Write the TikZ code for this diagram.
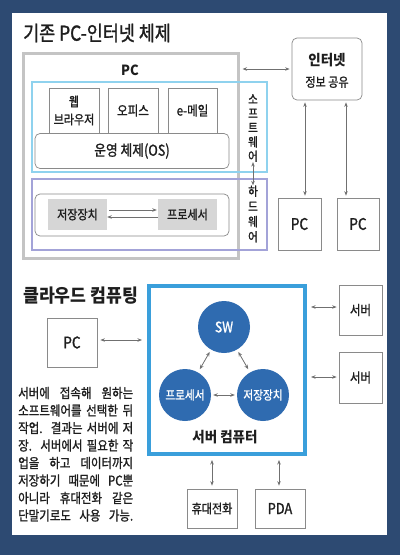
\documentclass[tikz,border=0pt]{standalone}
\usepackage{fontspec}
\setmainfont{Noto Sans CJK KR}[UprightFeatures={FakeStretch=0.85,FakeBold=1.2}, BoldFeatures={FakeStretch=0.93}]
\usetikzlibrary{arrows.meta}
\definecolor{bgblue}{HTML}{2D4A72}
\definecolor{swblue}{HTML}{8FD2EE}
\definecolor{hwpurple}{HTML}{A3A3D8}
\definecolor{pcgray}{HTML}{C4C4C4}
\definecolor{boxgray}{HTML}{8A8A8A}
\definecolor{fillgray}{HTML}{D6D6D6}
\definecolor{arrgray}{HTML}{707070}
\definecolor{circblue}{HTML}{2F6BB0}
\definecolor{srvblue}{HTML}{3A9FDB}
\definecolor{ink}{HTML}{1E1E1E}
\newcommand{\fs}[2]{\fontsize{#1}{#2}\selectfont}
\tikzset{
  plainbox/.style={draw=boxgray, line width=0.7pt, fill=white, inner sep=0pt, text=ink, font=\fs{13.5}{15}, align=center},
  rbox/.style={plainbox, rounded corners=5pt},
  graybox/.style={fill=fillgray, inner sep=0pt, text=ink, font=\fs{13}{15}},
  frame/.style={inner sep=0pt, fill=none},
  txt/.style={inner sep=0pt, align=center, text=ink},
  circ/.style={circle, fill=circblue, minimum size=52pt, inner sep=0pt, text=white, font=\fs{12.5}{14}},
  biarr/.style={draw=arrgray, line width=0.8pt, {Stealth[length=4.5pt,width=3.5pt]}-{Stealth[length=4.5pt,width=3.5pt]}},
  onearr/.style={draw=arrgray, line width=0.8pt, -{Stealth[length=4.5pt,width=3.5pt]}}
}
\begin{document}
\begin{tikzpicture}[x=1pt,y=-1pt]
\useasboundingbox (0,0) rectangle (400,555);
\fill[bgblue] (0,0) rectangle (400,555);
\fill[white] (12,13) rectangle (387,535);

% ---------- upper part
\node[txt, anchor=west, font=\fs{20.5}{22}] (title1) at (23,33) {기존 PC-인터넷 체제};

\node[frame, draw=pcgray, line width=3pt, minimum width=215, minimum height=205] (pcouter) at (130.5,155.5) {};
\node[txt, font=\bfseries\fs{14}{16}] (pclabel) at (130,70) {PC};

\node[frame, draw=swblue, line width=1.2pt, minimum width=235, minimum height=90] (swbox) at (149.5,127) {};
\node[frame, draw=hwpurple, line width=1.2pt, minimum width=235, minimum height=71] (hwbox) at (149.5,214.5) {};

\node[plainbox, minimum width=50, minimum height=45, font=\fs{13}{18}] (web) at (74,110.5) {웹\\브라우저};
\node[plainbox, minimum width=50, minimum height=45] (office) at (133,110.5) {오피스};
\node[plainbox, minimum width=49, minimum height=45] (email) at (192.5,110.5) {e-메일};
\node[rbox, minimum width=194, minimum height=35, font=\fs{15}{17}] (os) at (132,151) {운영 체제(OS)};

\node[txt, font=\fs{12.5}{14.3}] (swtext) at (253,128) {소\\프\\트\\웨\\어};
\node[txt, font=\fs{12.5}{15.2}] (hwtext) at (253,214) {하\\드\\웨\\어};
\draw[biarr] (swtext.south) -- (hwtext.north);

\node[rbox, fill=none, minimum width=194, minimum height=42] (hwinner) at (132,215) {};
\node[graybox, minimum width=59, minimum height=31] (stor) at (77.5,214.5) {저장장치};
\node[graybox, minimum width=59, minimum height=31] (proc) at (187.5,214.5) {프로세서};
\draw[onearr] ([yshift=-2.5pt]proc.west) -- ([yshift=-2.5pt]stor.east);
\draw[onearr, shorten <=2pt, shorten >=1pt] ([yshift=4.5pt]stor.east) -- ([yshift=4.5pt]proc.west);

\node[rbox, minimum width=70, minimum height=62] (inet) at (327,69) {};
\node[txt, font=\bfseries\fs{14.5}{16}] (inettitle) at (327,60) {인터넷};
\node[txt, font=\fs{13}{15}] (inetsub) at (327,82) {정보 공유};
\draw[biarr, shorten <=3pt, shorten >=2pt] (inet.west -| pcouter.east) -- (inet.west);

\node[plainbox, minimum width=43, minimum height=52, font=\fs{16}{18}] (pc1) at (299.5,224) {PC};
\node[plainbox, minimum width=42, minimum height=52, font=\fs{16}{18}] (pc2) at (358,224) {PC};
\draw[biarr, shorten <=2pt, shorten >=2pt] ([xshift=5.5pt]pc1.north |- inet.south) -- ([xshift=5.5pt]pc1.north);
\draw[biarr, shorten <=2pt, shorten >=2pt] ([xshift=-12pt]pc2.north |- inet.south) -- ([xshift=-12pt]pc2.north);

% ---------- lower part
\node[txt, anchor=west, font=\bfseries\fs{18.5}{20}] (title2) at (23,296) {클라우드 컴퓨팅};

\node[plainbox, minimum width=50, minimum height=49, font=\fs{16}{18}] (cpc) at (72,342.5) {PC};

\node[frame, draw=srvblue, line width=4pt, minimum width=156, minimum height=168] (server) at (227,370) {};
\node[circ, font=\fs{14.5}{16}] (sw) at (224,327) {SW};
\node[circ] (cproc) at (185,395) {프로세서};
\node[circ] (cstor) at (263,395) {저장장치};
\draw[biarr, shorten <=2.5pt, shorten >=3.5pt] (sw) -- (cproc);
\draw[biarr, shorten <=2.5pt, shorten >=3.5pt] (sw) -- (cstor);
\draw[biarr, shorten <=2pt, shorten >=2pt] (cproc) -- (cstor);
\node[txt, font=\bfseries\fs{14.5}{16}] (srvlabel) at (225,437) {서버 컴퓨터};

\draw[biarr, shorten <=3pt, shorten >=5pt] ([yshift=2.5pt]cpc.east) -- ([yshift=2.5pt]cpc.east -| server.west);

\node[plainbox, minimum width=43, minimum height=50] (srv1) at (360.5,310) {서버};
\node[plainbox, minimum width=43, minimum height=51] (srv2) at (360.5,377.5) {서버};
\draw[biarr, shorten <=2pt, shorten >=4pt] ([yshift=3pt]srv1.west) -- ([yshift=3pt]srv1.west -| server.east);
\draw[biarr, shorten <=2pt, shorten >=4pt] ([yshift=0.5pt]srv2.west) -- ([yshift=0.5pt]srv2.west -| server.east);

\node[plainbox, minimum width=50, minimum height=39, font=\fs{13}{15}] (phone) at (212,508.5) {휴대전화};
\node[plainbox, minimum width=50, minimum height=39, font=\fs{15}{17}] (pda) at (280,508.5) {PDA};
\draw[biarr, shorten <=3pt, shorten >=4pt] (phone.north) -- (phone.north |- server.south);
\draw[biarr, shorten <=3pt, shorten >=4pt] ([xshift=-1pt]pda.north) -- ([xshift=-1pt]pda.north |- server.south);

% paragraph
\begin{scope}[every node/.style={txt, anchor=west, font=\fs{13.5}{15}}]
\node (p1) at (18,393) {\makebox[115pt][s]{서버에 접속해 원하는}};
\node (p2) at (18,410.5) {\makebox[115pt][s]{소프트웨어를 선택한 뒤}};
\node (p3) at (18,428) {\makebox[115pt][s]{작업. 결과는 서버에 저}};
\node (p4) at (18,445.5) {\makebox[115pt][s]{장. 서버에서 필요한 작}};
\node (p5) at (18,463) {\makebox[115pt][s]{업을 하고 데이터까지}};
\node (p6) at (18,480.5) {\makebox[115pt][s]{저장하기 때문에 PC뿐}};
\node (p7) at (18,498) {\makebox[115pt][s]{아니라 휴대전화 같은}};
\node (p8) at (18,515.5) {\makebox[115pt][s]{단말기로도 사용 가능.}};
\end{scope}
\end{tikzpicture}
\end{document}
